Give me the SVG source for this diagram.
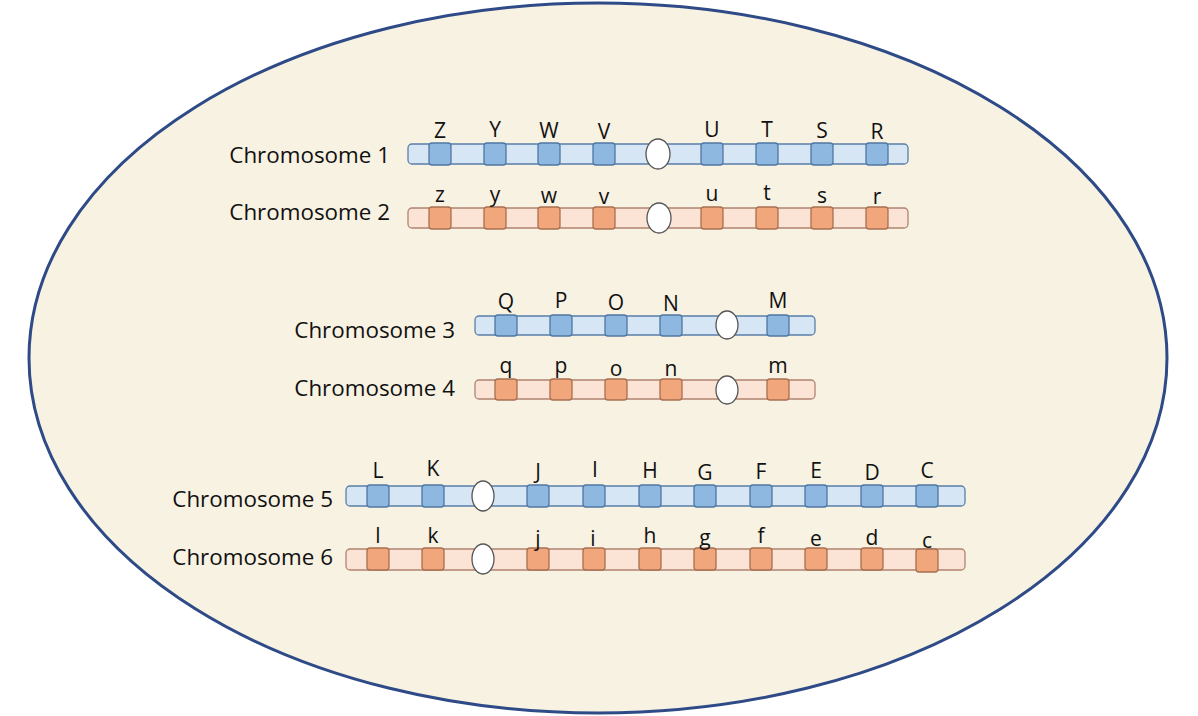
<svg xmlns="http://www.w3.org/2000/svg" width="1198" height="716" viewBox="0 0 1198 716">
<style>
text{font-family:"Open Sans","Liberation Sans",sans-serif;fill:#111}
.lab{font-size:22.4px;text-anchor:end}
.g{font-size:21px;text-anchor:middle}
.bb{fill:#d6e6f5;stroke:#5a7fa8;stroke-width:1.3}
.bo{fill:#fbe3d6;stroke:#b08470;stroke-width:1.3}
.kb{fill:#8fb8e0;stroke:#4f77a3;stroke-width:1.3}
.ko{fill:#f2a67c;stroke:#a87050;stroke-width:1.3}
.cen{fill:#fff;stroke:#555;stroke-width:1.3}
</style>
<rect width="1198" height="716" fill="#fff"/>
<ellipse cx="598" cy="358" rx="569" ry="355" fill="#f8f2e2" stroke="#2e4a87" stroke-width="3"/>
<g id="chr1">
<text class="lab" x="390" y="163">Chromosome 1</text>
<rect class="bb" x="408" y="144" width="500" height="20" rx="4"/>
<g class="kb"><rect x="429" y="143" width="22" height="22" rx="3"/><rect x="484" y="143" width="22" height="22" rx="3"/><rect x="538" y="143" width="22" height="22" rx="3"/><rect x="593" y="143" width="22" height="22" rx="3"/><rect x="701" y="143" width="22" height="22" rx="3"/><rect x="756" y="143" width="22" height="22" rx="3"/><rect x="811" y="143" width="22" height="22" rx="3"/><rect x="866" y="143" width="22" height="22" rx="3"/></g>
<ellipse class="cen" cx="658" cy="154" rx="12" ry="15"/>
<text class="g" x="440" y="138">Z</text><text class="g" x="495" y="137">Y</text><text class="g" x="549" y="138">W</text><text class="g" x="604" y="139">V</text><text class="g" x="712" y="137">U</text><text class="g" x="767" y="137">T</text><text class="g" x="822" y="138">S</text><text class="g" x="877" y="139">R</text>
</g>
<g id="chr2">
<text class="lab" x="390" y="220">Chromosome 2</text>
<rect class="bo" x="408" y="208" width="500" height="20" rx="4"/>
<g class="ko"><rect x="429" y="207" width="22" height="22" rx="3"/><rect x="484" y="207" width="22" height="22" rx="3"/><rect x="538" y="207" width="22" height="22" rx="3"/><rect x="593" y="207" width="22" height="22" rx="3"/><rect x="701" y="207" width="22" height="22" rx="3"/><rect x="756" y="207" width="22" height="22" rx="3"/><rect x="811" y="207" width="22" height="22" rx="3"/><rect x="866" y="207" width="22" height="22" rx="3"/></g>
<ellipse class="cen" cx="659" cy="218" rx="12" ry="15"/>
<text class="g" x="440" y="202">z</text><text class="g" x="495" y="202">y</text><text class="g" x="549" y="203">w</text><text class="g" x="604" y="204">v</text><text class="g" x="712" y="201">u</text><text class="g" x="767" y="200">t</text><text class="g" x="822" y="203">s</text><text class="g" x="877" y="204">r</text>
</g>
<g id="chr3">
<text class="lab" x="455" y="338">Chromosome 3</text>
<rect class="bb" x="475" y="316" width="340" height="19" rx="4"/>
<g class="kb"><rect x="495" y="315" width="22" height="21" rx="3"/><rect x="550" y="315" width="22" height="21" rx="3"/><rect x="605" y="315" width="22" height="21" rx="3"/><rect x="660" y="315" width="22" height="21" rx="3"/><rect x="767" y="315" width="22" height="21" rx="3"/></g>
<ellipse class="cen" cx="727" cy="325" rx="11" ry="14"/>
<text class="g" x="506" y="309">Q</text><text class="g" x="561" y="308">P</text><text class="g" x="616" y="310">O</text><text class="g" x="671" y="311">N</text><text class="g" x="778" y="308">M</text>
</g>
<g id="chr4">
<text class="lab" x="455" y="396">Chromosome 4</text>
<rect class="bo" x="475" y="380" width="340" height="19" rx="4"/>
<g class="ko"><rect x="495" y="379" width="22" height="21" rx="3"/><rect x="550" y="379" width="22" height="21" rx="3"/><rect x="605" y="379" width="22" height="21" rx="3"/><rect x="660" y="379" width="22" height="21" rx="3"/><rect x="767" y="379" width="22" height="21" rx="3"/></g>
<ellipse class="cen" cx="727" cy="390" rx="11" ry="14"/>
<text class="g" x="506" y="373">q</text><text class="g" x="561" y="373">p</text><text class="g" x="616" y="376">o</text><text class="g" x="671" y="376">n</text><text class="g" x="778" y="373">m</text>
</g>
<g id="chr5">
<text class="lab" x="333" y="507">Chromosome 5</text>
<rect class="bb" x="346" y="486" width="619" height="20" rx="4"/>
<g class="kb"><rect x="367" y="485" width="22" height="22" rx="3"/><rect x="422" y="485" width="22" height="22" rx="3"/><rect x="527" y="485" width="22" height="22" rx="3"/><rect x="583" y="485" width="22" height="22" rx="3"/><rect x="639" y="485" width="22" height="22" rx="3"/><rect x="694" y="485" width="22" height="22" rx="3"/><rect x="750" y="485" width="22" height="22" rx="3"/><rect x="805" y="485" width="22" height="22" rx="3"/><rect x="861" y="485" width="22" height="22" rx="3"/><rect x="916" y="485" width="22" height="22" rx="3"/></g>
<ellipse class="cen" cx="483" cy="496" rx="11" ry="15"/>
<text class="g" x="378" y="478">L</text><text class="g" x="433" y="476">K</text><text class="g" x="538" y="479">J</text><text class="g" x="595" y="477">I</text><text class="g" x="650" y="478">H</text><text class="g" x="705" y="480">G</text><text class="g" x="761" y="479">F</text><text class="g" x="816" y="478">E</text><text class="g" x="872" y="480">D</text><text class="g" x="927" y="478">C</text>
</g>
<g id="chr6">
<text class="lab" x="333" y="565">Chromosome 6</text>
<rect class="bo" x="346" y="549" width="619" height="21" rx="4"/>
<g class="ko"><rect x="367" y="548" width="22" height="22" rx="3"/><rect x="422" y="548" width="22" height="22" rx="3"/><rect x="527" y="548" width="22" height="22" rx="3"/><rect x="583" y="548" width="22" height="22" rx="3"/><rect x="639" y="548" width="22" height="22" rx="3"/><rect x="694" y="548" width="22" height="22" rx="3"/><rect x="750" y="548" width="22" height="22" rx="3"/><rect x="805" y="548" width="22" height="22" rx="3"/><rect x="861" y="548" width="22" height="22" rx="3"/><rect x="916" y="549" width="22" height="23" rx="3"/></g>
<ellipse class="cen" cx="483" cy="559" rx="11" ry="15"/>
<text class="g" x="378" y="543">l</text><text class="g" x="433" y="543">k</text><text class="g" x="538" y="546">j</text><text class="g" x="593" y="546">i</text><text class="g" x="650" y="543">h</text><text class="g" x="705" y="545">g</text><text class="g" x="761" y="543">f</text><text class="g" x="816" y="546">e</text><text class="g" x="872" y="545">d</text><text class="g" x="927" y="548">c</text>
</g>
<g id="connectors"/>
</svg>
